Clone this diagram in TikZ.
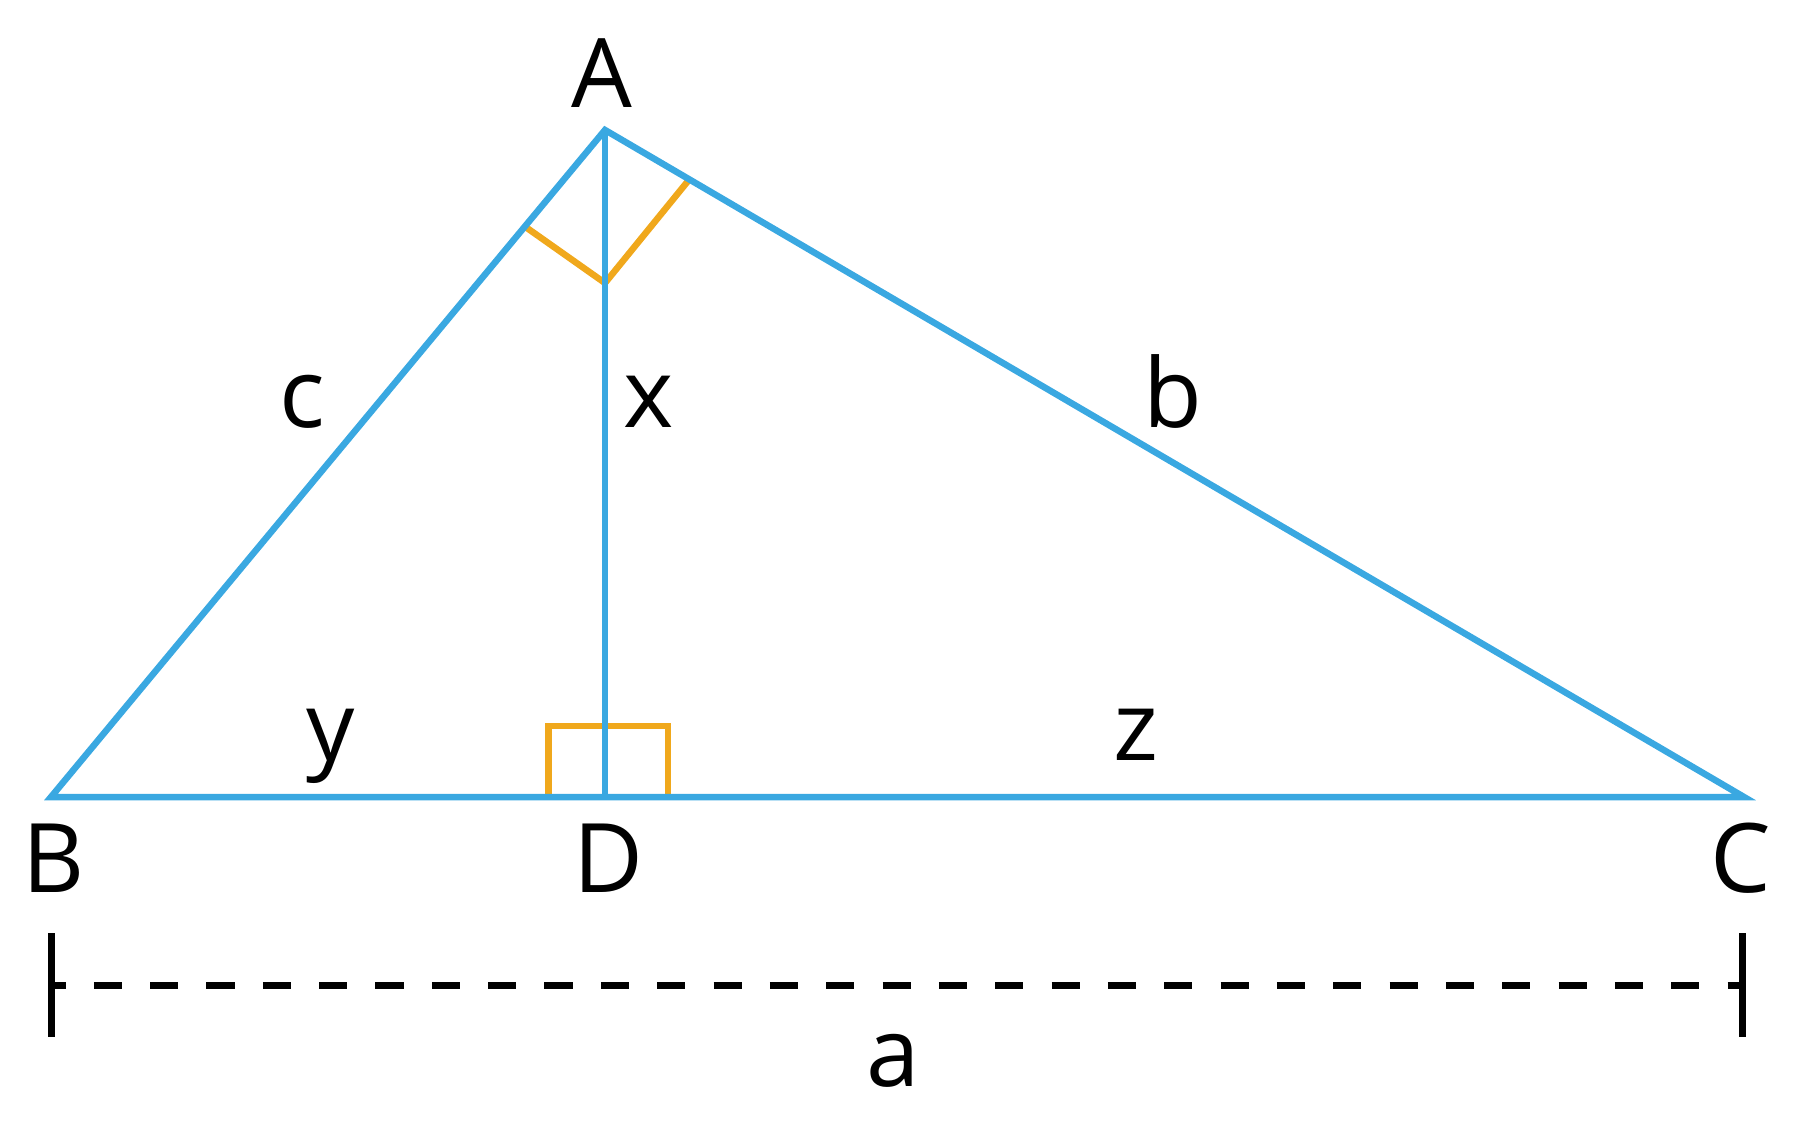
\documentclass[tikz,border=0pt]{standalone}
\usepackage{fontspec}
\setmainfont{Open Sans}
\definecolor{triblue}{RGB}{58,168,225}
\definecolor{markorange}{RGB}{240,168,28}
\begin{document}
\begin{tikzpicture}[x=0.5pt,y=-0.5pt,
  side/.style={draw=triblue,line width=3.25pt,line join=miter},
  anglemark/.style={draw=markorange,line width=3.25pt,line join=miter},
  dim/.style={draw=black,line width=3.4pt},
  lbl/.style={inner sep=0pt,anchor=base,font=\fontsize{48}{58}\selectfont}]
\useasboundingbox (0,0) rectangle (1800,1140);
% vertices
\coordinate (A) at (605,130);
\coordinate (B) at (51,797);
\coordinate (C) at (1744,797);
\coordinate (D) at (605,797);
% angle mark at A
\coordinate (m1) at (527,228);
\coordinate (m2) at (605,283);
\coordinate (m3) at (688,181);
\draw[anglemark] (m1) -- (m2) -- (m3);
% right-angle mark at D
\coordinate (r1) at (548.5,797);
\coordinate (r2) at (548.5,726);
\coordinate (r3) at (668,726);
\coordinate (r4) at (668,797);
\draw[anglemark] (r1) -- (r2) -- (r3) -- (r4);
% triangle and altitude
\draw[side] (A) -- (B) -- (C) -- cycle;
\draw[side] (A) -- (D);
% dimension line
\coordinate (tl1) at (51.5,933);
\coordinate (tl2) at (51.5,1037);
\coordinate (tr1) at (1742.5,933);
\coordinate (tr2) at (1742.5,1037);
\coordinate (dl) at (51.5,985.5);
\coordinate (dr) at (1742.5,985.5);
\draw[dim] (tl1) -- (tl2);
\draw[dim] (tr1) -- (tr2);
\draw[dim,dash pattern=on 14.085pt off 14.085pt,dash phase=7.04pt] (dl) -- (dr);
% labels
\node[lbl] (lA) at (602,107) {A};
\node[lbl] (lB) at (54,892) {B};
\node[lbl] (lD) at (608,892) {D};
\node[lbl] (lC) at (1741,892) {C};
\node[lbl] (lc) at (302,427) {c};
\node[lbl] (lx) at (649,427) {x};
\node[lbl] (lb) at (1173,427) {b};
\node[lbl] (ly) at (331,760) {y};
\node[lbl] (lz) at (1136,760) {z};
\node[lbl] (la) at (893,1086) {a};
\end{tikzpicture}
\end{document}
